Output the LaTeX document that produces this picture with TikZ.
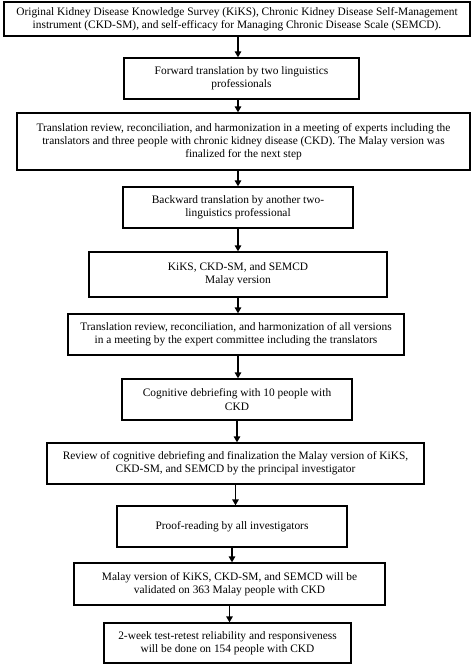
\documentclass[tikz,border=0pt]{standalone}
\usepackage{fontspec}
\setmainfont{Liberation Serif}
\usetikzlibrary{arrows.meta}
\begin{document}
\begin{tikzpicture}[x=1pt,y=-1pt,
  box/.style={draw=black,line width=1.3pt,fill=white,align=center,inner sep=0pt,
    font=\fontsize{11.4}{13.3}\selectfont},
  arr/.style={line width=1.3pt,-{Triangle[length=6pt,width=6.5pt]}}]
\useasboundingbox[fill=white] (0,0) rectangle (474,669);
\node[box,minimum width=466,minimum height=34] (b1) at (237,19) {Original Kidney Disease Knowledge Survey (KiKS), Chronic Kidney Disease Self-Management\\instrument (CKD-SM), and self-efficacy for Managing Chronic Disease Scale (SEMCD).};
\node[box,minimum width=235,minimum height=41] (b2) at (241.5,78.5) {Forward translation by two linguistics\\professionals};
\node[box,minimum width=453,minimum height=57] (b3) at (243.5,141.5) {Translation review, reconciliation, and harmonization in a meeting of experts including the\\translators and three people with chronic kidney disease (CKD). The Malay version was\\finalized for the next step};
\node[box,minimum width=230,minimum height=41] (b4) at (238,207.5) {Backward translation by another two-\\linguistics professional};
\node[box,minimum width=298,minimum height=45] (b5) at (238,274.5) {KiKS, CKD-SM, and SEMCD\\Malay version};
\node[box,minimum width=336,minimum height=41] (b6) at (236,334.5) {Translation review, reconciliation, and harmonization of all versions\\in a meeting by the expert committee including the translators};
\node[box,minimum width=230,minimum height=41] (b7) at (237,399.5) {Cognitive debriefing with 10 people with\\CKD};
\node[box,minimum width=377,minimum height=41] (b8) at (235.5,463.5) {Review of cognitive debriefing and finalization the Malay version of KiKS,\\CKD-SM, and SEMCD by the principal investigator};
\node[box,minimum width=230,minimum height=41] (b9) at (232,526.5) {Proof-reading by all investigators};
\node[box,minimum width=311,minimum height=42] (b10) at (229.5,584) {Malay version of KiKS, CKD-SM, and SEMCD will be\\validated on 363 Malay people with CKD};
\node[box,minimum width=247,minimum height=40] (b11) at (227.5,643) {2-week test-retest reliability and responsiveness\\will be done on 154 people with CKD};
\draw[arr] ([xshift=1pt]b1.south) -- ([xshift=1pt]b1.south |- b2.north);
\draw[arr] ([xshift=-3.5pt]b2.south) -- ([xshift=-3.5pt]b2.south |- b3.north);
\draw[arr] ([xshift=-5.5pt]b3.south) -- ([xshift=-5.5pt]b3.south |- b4.north);
\draw[arr] (b4.south) -- (b4.south |- b5.north);
\draw[arr] (b5.south) -- (b5.south |- b6.north);
\draw[arr] ([xshift=2pt]b6.south) -- ([xshift=2pt]b6.south |- b7.north);
\draw[arr] (b7.south) -- (b7.south |- b8.north);
\draw[arr] (b8.south) -- (b8.south |- b9.north);
\draw[arr] (b9.south) -- (b9.south |- b10.north);
\draw[arr] (b10.south) -- (b10.south |- b11.north);
\end{tikzpicture}
\end{document}
